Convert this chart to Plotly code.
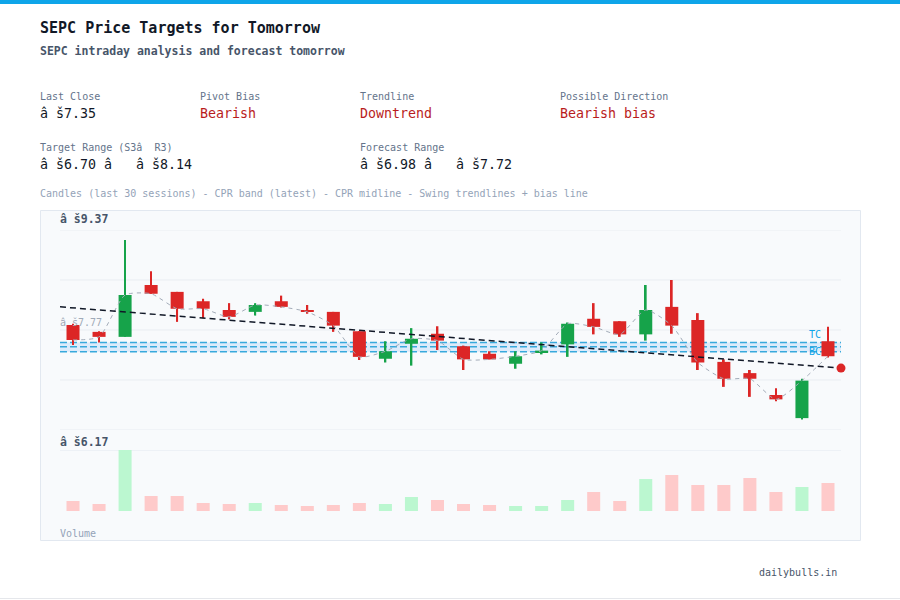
import plotly.graph_objects as go

# ---------------- data ----------------
sessions = list(range(30))
opens  = [7.85, 7.74, 7.66, 8.49, 8.38, 8.23, 8.09, 8.06, 8.23, 8.09,
          8.06, 7.75, 7.31, 7.55, 7.71, 7.51, 7.39, 7.23, 7.41, 7.54,
          7.95, 7.91, 7.70, 8.14, 7.93, 7.26, 7.08, 6.73, 6.36, 7.59]
highs  = [7.87, 7.75, 9.21, 8.71, 8.38, 8.27, 8.20, 8.20, 8.32, 8.17,
          8.06, 7.75, 7.59, 7.80, 7.83, 7.52, 7.43, 7.43, 7.57, 7.89,
          8.20, 7.91, 8.49, 8.57, 8.04, 7.30, 7.13, 6.84, 6.99, 7.82]
lows   = [7.53, 7.57, 7.66, 8.35, 7.90, 7.96, 7.94, 8.00, 8.13, 8.03,
          7.74, 7.29, 7.25, 7.20, 7.45, 7.13, 7.30, 7.15, 7.38, 7.34,
          7.70, 7.66, 7.60, 7.71, 7.13, 6.86, 6.70, 6.63, 6.34, 7.33]
closes = [7.61, 7.66, 8.33, 8.35, 8.11, 8.11, 7.98, 8.17, 8.14, 8.06,
          7.84, 7.34, 7.43, 7.63, 7.60, 7.30, 7.30, 7.35, 7.44, 7.87,
          7.82, 7.70, 8.09, 7.84, 7.25, 6.99, 6.99, 6.66, 6.96, 7.35]
volumes = [41000, 28700, 250000, 61500, 61500, 32800, 28700, 32800, 24600, 20500,
           24600, 32800, 28700, 57400, 45100, 28700, 24600, 20500, 20500, 45100,
           77900, 41000, 131000, 147500, 106600, 106600, 135200, 77900, 98400, 114800]

price_min, price_max = 6.17, 9.37
grid_levels = [6.17, 6.97, 7.77, 8.57, 9.37]
cpr_tc, cpr_p, cpr_bc = 7.57, 7.50, 7.42
trend_x = [-0.5, 29.5]
trend_y = [8.14, 7.16]
vol_max = 250000

title = "SEPC Price Targets for Tomorrow"
subtitle = "SEPC intraday analysis and forecast tomorrow"
stat_labels = ["Last Close", "Pivot Bias", "Trendline", "Possible Direction",
               "Target Range (S3â\u00a0\u00a0R3)", "Forecast Range"]
stat_values = ["â š7.35", "Bearish", "Downtrend", "Bearish bias",
               "â š6.70 â\u00a0\u00a0\u00a0â š8.14", "â š6.98 â\u00a0\u00a0\u00a0â š7.72"]
caption = "Candles (last 30 sessions) - CPR band (latest) - CPR midline - Swing trendlines + bias line"
footer = "dailybulls.in"

# ---------------- styling ----------------
W, H = 900, 600
FONT = "DejaVu Sans Mono"
GREEN, RED = "#16a34a", "#dc2626"
VGREEN, VRED = "#bbf7d0", "#fecaca"
SKY = "#0ea5e9"

def px(x):
    return x / W

def py(y):
    return 1 - y / H

up = [c >= o for o, c in zip(opens, closes)]
cols = [GREEN if u else RED for u in up]
vcols = [VGREEN if u else VRED for u in up]
body_base = [min(o, c) for o, c in zip(opens, closes)]
body_h = [max(abs(c - o), 0.02) for o, c in zip(opens, closes)]
wick_h = [h - l for h, l in zip(highs, lows)]

fig = go.Figure()

# wicks
fig.add_trace(go.Bar(x=sessions, y=wick_h, base=lows, width=0.07,
                     marker=dict(color=cols, line=dict(width=0)),
                     xaxis="x", yaxis="y", hoverinfo="skip"))
# close line
fig.add_trace(go.Scatter(x=sessions, y=closes, mode="lines",
                         line=dict(color="#a3acb9", width=1, dash="4px,4px",
                                   shape="spline", smoothing=0.6),
                         xaxis="x", yaxis="y", hoverinfo="skip"))
# bodies
fig.add_trace(go.Bar(x=sessions, y=body_h, base=body_base, width=0.5,
                     marker=dict(color=cols, line=dict(width=0)),
                     xaxis="x", yaxis="y"))
# trendline
fig.add_trace(go.Scatter(x=trend_x, y=trend_y, mode="lines",
                         line=dict(color="#111827", width=1.5, dash="6px,4px"),
                         cliponaxis=False, xaxis="x", yaxis="y", hoverinfo="skip"))
# bias dot
fig.add_trace(go.Scatter(x=[trend_x[-1]], y=[trend_y[-1]], mode="markers",
                         marker=dict(color=RED, size=9),
                         cliponaxis=False, xaxis="x", yaxis="y"))
# volume
fig.add_trace(go.Bar(x=sessions, y=volumes, width=0.5,
                     marker=dict(color=vcols, line=dict(width=0)),
                     xaxis="x2", yaxis="y2"))

shapes = [
    dict(type="rect", xref="paper", yref="paper", x0=0, x1=1, y0=py(4), y1=1,
         fillcolor=SKY, line=dict(width=0), layer="below"),
    dict(type="rect", xref="paper", yref="paper", x0=px(40.5), x1=px(860.5),
         y0=py(540.5), y1=py(210.5), fillcolor="#f8fafc",
         line=dict(color="#e2e8f0", width=1), layer="below"),
    dict(type="line", xref="paper", yref="paper", x0=0, x1=1, y0=py(598.5), y1=py(598.5),
         line=dict(color="#e5e7eb", width=1)),
]
# grid lines
for lvl in grid_levels:
    shapes.append(dict(type="line", xref="x", yref="y", x0=trend_x[0], x1=trend_x[-1],
                       y0=lvl, y1=lvl, line=dict(color="#e9edf2", width=1), layer="below"))
shapes.append(dict(type="line", xref="x2", yref="y2", x0=trend_x[0], x1=trend_x[-1],
                   y0=vol_max, y1=vol_max, line=dict(color="#e2e8f0", width=1), layer="below"))
# CPR band
shapes.append(dict(type="rect", xref="x", yref="y", x0=trend_x[0], x1=trend_x[-1], y0=cpr_bc, y1=cpr_tc,
                   fillcolor="rgba(96,165,250,0.18)", line=dict(width=0), layer="below"))
for lvl in [cpr_tc, cpr_p, cpr_bc]:
    shapes.append(dict(type="line", xref="x", yref="y", x0=trend_x[0], x1=trend_x[-1],
                       y0=lvl, y1=lvl, line=dict(color="#38a9dc", width=1.5, dash="7px,3px"),
                       layer="below"))

ann = []
def text(x, y, s, size, color, bold=False, xanchor="left", yanchor="middle"):
    ann.append(dict(x=px(x), y=py(y), xref="paper", yref="paper", text=("<b>%s</b>" % s) if bold else s,
                    showarrow=False, xanchor=xanchor, yanchor=yanchor,
                    font=dict(family=FONT, size=size, color=color)))

text(38, 28, title, 15, "#111827", bold=True)
text(38, 51, subtitle, 11.5, "#475569", bold=True)
cols_x = [37.5, 198, 358, 558]
for i in range(4):
    text(cols_x[i], 97, stat_labels[i], 10, "#64748b")
    color = "#111827" if i == 0 else "#b91c1c"
    text(cols_x[i], 114, stat_values[i], 13.3, color)
text(37.5, 147, stat_labels[4], 10, "#64748b")
text(37.5, 164, stat_values[4], 13.3, "#111827")
text(358, 147, stat_labels[5], 10, "#64748b")
text(358, 164, stat_values[5], 13.3, "#111827")
text(37.5, 193, caption, 10, "#94a3b8")
text(839, 572, footer, 10, "#475569", xanchor="right")
text(58, 533, "Volume", 10, "#94a3b8")

# price labels
ann.append(dict(x=px(58), y=price_max, xref="paper", yref="y", text="<b>â š%.2f</b>" % price_max,
                showarrow=False, xanchor="left", yanchor="bottom", yshift=2,
                font=dict(family=FONT, size=11.5, color="#475569")))
mid = grid_levels[2]
ann.append(dict(x=px(58), y=mid, xref="paper", yref="y", text="â š%.2f" % mid,
                showarrow=False, xanchor="left", yanchor="bottom", yshift=0,
                font=dict(family=FONT, size=10, color="#a0aab8")))
ann.append(dict(x=px(58), y=price_min, xref="paper", yref="y", text="<b>â š%.2f</b>" % price_min,
                showarrow=False, xanchor="left", yanchor="top", yshift=-3,
                font=dict(family=FONT, size=11.5, color="#475569")))
# CPR labels
ann.append(dict(x=28.8, y=cpr_tc, xref="x", yref="y", text="TC", showarrow=False,
                xanchor="right", yanchor="bottom", yshift=1,
                font=dict(family=FONT, size=10, color=SKY)))
ann.append(dict(x=28.8, y=cpr_tc, xref="x", yref="y", text="BC", showarrow=False,
                xanchor="right", yanchor="top", yshift=-1,
                font=dict(family=FONT, size=10, color=SKY)))

fig.update_layout(
    width=W, height=H, autosize=False,
    margin=dict(l=0, r=0, t=0, b=0),
    paper_bgcolor="white", plot_bgcolor="rgba(0,0,0,0)",
    showlegend=False, barmode="overlay",
    shapes=shapes, annotations=ann,
    xaxis=dict(domain=[px(60), px(841)], range=[-0.5, 29.5], showgrid=False,
               showticklabels=False, zeroline=False, showline=False, anchor="y"),
    yaxis=dict(domain=[py(430), py(230)], range=[price_min, price_max],
               showgrid=False, showticklabels=False, zeroline=False, showline=False, anchor="x"),
    xaxis2=dict(domain=[px(60), px(841)], range=[-0.5, 29.5], showgrid=False,
                showticklabels=False, zeroline=False, showline=False, anchor="y2"),
    yaxis2=dict(domain=[py(511), py(450)], range=[0, vol_max], showgrid=False,
                showticklabels=False, zeroline=False, showline=False, anchor="x2"),
)

fig.write_html("out.html")
